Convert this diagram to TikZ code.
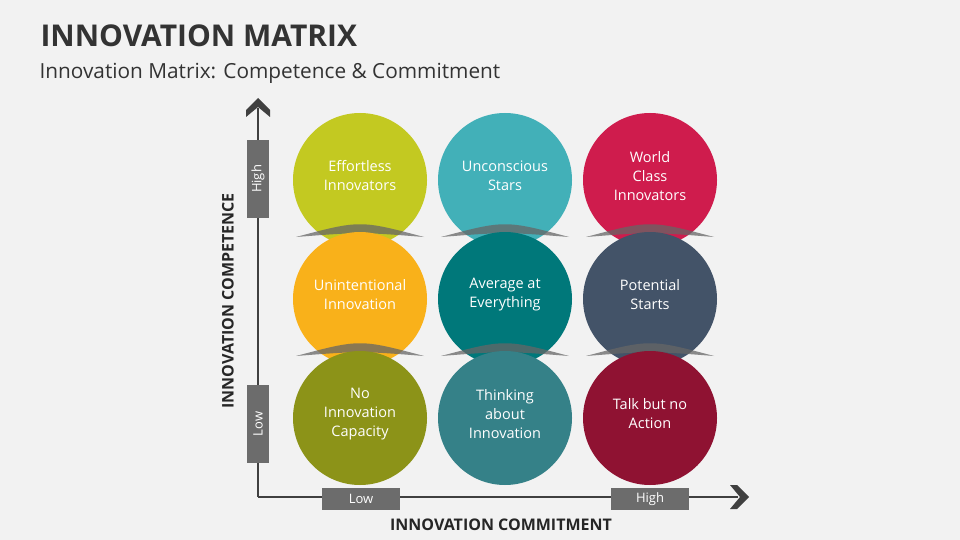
\documentclass[tikz,border=0pt]{standalone}
\usepackage{fontspec}
\setmainfont{Open Sans}
\usetikzlibrary{calc}
\begin{document}
\begin{tikzpicture}[x=1pt,y=-1pt,
  circ/.style={circle,minimum size=134pt,inner sep=0pt},
  ctext/.style={text=white,align=center,font=\fontsize{14.5}{19}\selectfont,yshift=4pt},
  lab/.style={fill=gray!85!black,text=white,font=\fontsize{13}{15}\selectfont,inner sep=0pt},
  ax/.style={line width=2pt,draw=black!75}]
\definecolor{bg}{HTML}{F2F2F2}
\definecolor{a1}{HTML}{C3C921}\definecolor{a2}{HTML}{42B0B8}\definecolor{a3}{HTML}{CF1C4D}
\definecolor{b1}{HTML}{F9B11A}\definecolor{b2}{HTML}{00787A}\definecolor{b3}{HTML}{435368}
\definecolor{c1}{HTML}{8C9318}\definecolor{c2}{HTML}{358188}\definecolor{c3}{HTML}{8F1232}
\fill[bg] (0,0) rectangle (960,540);
\node[anchor=west,font=\fontsize{30}{34}\selectfont\bfseries,text=black!80] (t) at (37,36) {INNOVATION MATRIX};
\node[anchor=west,font=\fontsize{20.8}{24}\selectfont,text=black!80] (s) at (36,73) {Innovation Matrix: Competence \& Commitment};
% axes
\coordinate (o) at (258,497);
\coordinate (ytop) at (258,108);
\coordinate (xend) at (738,497);
\draw[ax] (o) -- (ytop);
\draw[ax] (o) -- (xend);
\fill[black!75] (258,98) -- (270,110) -- (270,117) -- (258,107) -- (246,117) -- (246,110) -- cycle;
\fill[black!75] (749,497) -- (737,485) -- (730,485) -- (740,497) -- (730,509) -- (737,509) -- cycle;
\node[lab,minimum width=22pt,minimum height=78pt] (hy) at (258,179) {};
\node[rotate=90,text=white,font=\fontsize{13}{15}\selectfont] (hyt) at (hy) {High};
\node[lab,minimum width=22pt,minimum height=78pt] (ly) at (258,424) {};
\node[rotate=90,text=white,font=\fontsize{13}{15}\selectfont] (lyt) at (ly) {Low};
\node[lab,minimum width=78pt,minimum height=22pt] (lx) at (361,499) {Low};
\node[lab,minimum width=78pt,minimum height=22pt] (hx) at (650,499) {High};
\node[rotate=90,font=\fontsize{16}{18}\selectfont\bfseries,text=black!85] (yt) at (228,301) {INNOVATION COMPETENCE};
\node[font=\fontsize{16}{18}\selectfont\bfseries,text=black!85] (xt) at (501,525) {INNOVATION COMMITMENT};
% circles
\foreach \col/\x in {1/360,2/505,3/650}{
  \foreach \row/\y in {1/180,2/299,3/418}{
    \coordinate (p\col\row) at (\x,\y);
  }}
\node[circ,fill=a1] (n11) at (p11) {};
\node[circ,fill=a2] (n21) at (p21) {};
\node[circ,fill=a3] (n31) at (p31) {};
\node[ctext] at (p11) {Effortless\\Innovators};
\node[ctext] at (p21) {Unconscious\\Stars};
\node[ctext] at (p31) {World\\Class\\Innovators};
\foreach \c in {1,2,3}{
  \fill[black!60,opacity=0.75] ($(p\c1)+(-64,57)$) .. controls ($(p\c1)+(0,40)$) .. ($(p\c1)+(64,57)$) .. controls ($(p\c1)+(0,52)$) .. cycle;}
\node[circ,fill=b1] (n12) at (p12) {};
\node[circ,fill=b2] (n22) at (p22) {};
\node[circ,fill=b3] (n32) at (p32) {};
\node[ctext] at (p12) {Unintentional\\Innovation};
\node[ctext] at (p22) {Average at\\Everything};
\node[ctext] at (p32) {Potential\\Starts};
\foreach \c in {1,2,3}{
  \fill[black!60,opacity=0.75] ($(p\c2)+(-64,57)$) .. controls ($(p\c2)+(0,40)$) .. ($(p\c2)+(64,57)$) .. controls ($(p\c2)+(0,52)$) .. cycle;}
\node[circ,fill=c1] (n13) at (p13) {};
\node[circ,fill=c2] (n23) at (p23) {};
\node[circ,fill=c3] (n33) at (p33) {};
\node[ctext] at (p13) {No\\Innovation\\Capacity};
\node[ctext] at (p23) {Thinking\\about\\Innovation};
\node[ctext] at (p33) {Talk but no\\Action};
\end{tikzpicture}
\end{document}
